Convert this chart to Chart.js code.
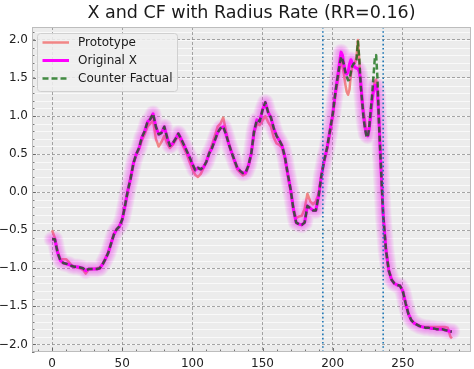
<!DOCTYPE html>
<html>
<head>
<meta charset="utf-8">
<script src="https://cdn.jsdelivr.net/npm/chart.js@4"></script>
<style>
  html, body { margin: 0; padding: 0; background: #fff; }
</style>
</head>
<body>
<canvas id="cfChart" width="474" height="369"></canvas>
<script>
// ── DATA ──
// time index (step 2, step 1 inside the CF window)
const steps = [
  0,2,4,6,8,10,12,14,16,18,20,22,24,26,28,30,32,34,36,38,40,42,44,46,48,50,
  52,54,56,58,60,62,64,66,68,70,72,74,76,78,80,82,84,86,88,90,92,94,96,98,100,
  102,104,106,108,110,112,114,116,118,120,122,124,126,128,130,132,134,136,138,140,
  142,144,146,148,150,152,154,156,158,160,162,164,166,168,170,172,174,176,178,180,
  182,184,186,188,190,192,194,196,198,200,202,
  204,205,206,207,208,209,210,211,212,213,214,215,216,217,218,219,
  220,221,222,223,224,225,226,227,228,229,230,231,232,233,234,
  236,238,240,242,244,246,248,250,252,254,256,258,260,262,264,266,268,270,
  272,274,276,278,280,282,284,285
];

const prototypeVals = [
  -0.50,-0.60,-0.78,-0.88,-0.88,-0.88,-0.92,-0.96,-0.98,-0.99,-1.00,-1.02,-1.07,-1.02,-1.01,-1.01,-1.00,-0.99,-0.94,-0.87,-0.79,-0.67,-0.55,-0.49,-0.44,-0.36,
  -0.18,0.02,0.20,0.38,0.49,0.57,0.68,0.76,0.86,0.90,0.94,0.70,0.60,0.66,0.74,0.64,0.58,0.62,0.68,0.74,0.66,0.58,0.50,0.40,0.30,
  0.23,0.20,0.24,0.32,0.40,0.52,0.62,0.74,0.86,0.90,0.98,0.80,0.64,0.52,0.40,0.30,0.26,0.22,0.24,0.34,
  0.50,0.78,0.90,0.88,0.94,1.00,0.92,0.86,0.72,0.64,0.62,0.58,0.44,0.22,0.02,-0.22,-0.34,-0.32,-0.31,-0.22,
  -0.02,-0.12,-0.16,-0.12,-0.02,0.22,0.42,0.56,0.76,0.98,1.28,
  1.50,1.62,1.72,1.66,1.55,1.42,1.32,1.28,1.35,1.55,1.65,1.68,1.70,1.78,2.00,1.72,
  1.40,1.15,1.06,0.95,0.80,0.78,0.86,1.02,1.20,1.35,1.45,1.48,1.30,0.95,0.50,
  -0.30,-0.76,-1.03,-1.15,-1.20,-1.22,-1.23,-1.30,-1.46,-1.60,-1.68,-1.72,-1.74,-1.76,-1.77,-1.77,-1.77,-1.77,
  -1.77,-1.77,-1.77,-1.77,-1.77,-1.78,-1.90,-1.92
];

const originalX = [
  -0.62,-0.62,-0.80,-0.90,-0.93,-0.94,-0.95,-0.97,-0.98,-0.98,-0.99,-1.00,-1.03,-1.01,-1.01,-1.01,-1.01,-1.00,-0.95,-0.88,-0.80,-0.68,-0.56,-0.49,-0.45,-0.36,
  -0.18,0.02,0.18,0.38,0.50,0.58,0.72,0.80,0.92,0.96,1.03,0.86,0.76,0.78,0.86,0.72,0.61,0.64,0.70,0.77,0.70,0.62,0.54,0.46,0.37,
  0.29,0.32,0.30,0.33,0.40,0.51,0.58,0.68,0.78,0.84,0.86,0.76,0.63,0.52,0.42,0.32,0.28,0.25,0.26,0.35,
  0.51,0.80,0.95,0.93,1.08,1.18,1.05,0.98,0.84,0.74,0.68,0.61,0.46,0.24,0.04,-0.22,-0.40,-0.42,-0.43,-0.40,
  -0.18,-0.21,-0.24,-0.24,-0.05,0.22,0.42,0.58,0.80,1.02,1.32,
  1.58,1.72,1.84,1.80,1.68,1.58,1.55,1.58,1.68,1.74,1.70,1.66,1.64,1.63,1.62,1.58,
  1.45,1.22,1.00,0.86,0.76,0.74,0.82,1.00,1.18,1.32,1.40,1.40,1.30,0.95,0.50,
  -0.30,-0.76,-1.03,-1.15,-1.20,-1.22,-1.23,-1.30,-1.46,-1.60,-1.68,-1.72,-1.74,-1.76,-1.77,-1.78,-1.78,-1.79,
  -1.79,-1.80,-1.80,-1.80,-1.81,-1.82,-1.83,-1.83
];

const counterFactual = [
  -0.62,-0.62,-0.80,-0.90,-0.93,-0.94,-0.95,-0.97,-0.98,-0.98,-0.99,-1.00,-1.03,-1.01,-1.01,-1.01,-1.01,-1.00,-0.95,-0.88,-0.80,-0.68,-0.56,-0.49,-0.45,-0.36,
  -0.18,0.02,0.18,0.38,0.50,0.58,0.72,0.80,0.92,0.96,1.03,0.86,0.76,0.78,0.86,0.72,0.61,0.64,0.70,0.77,0.70,0.62,0.54,0.46,0.37,
  0.29,0.32,0.30,0.33,0.40,0.51,0.58,0.68,0.78,0.84,0.86,0.76,0.63,0.52,0.42,0.32,0.28,0.25,0.26,0.35,
  0.51,0.80,0.95,0.93,1.08,1.18,1.05,0.98,0.84,0.74,0.68,0.61,0.46,0.24,0.04,-0.22,-0.40,-0.42,-0.43,-0.40,
  -0.18,-0.21,-0.24,-0.24,-0.05,0.22,0.42,0.58,0.80,1.02,1.32,
  1.56,1.68,1.78,1.74,1.68,1.58,1.52,1.47,1.48,1.58,1.66,1.69,1.70,1.74,1.98,1.75,
  1.40,1.20,0.98,0.84,0.74,0.72,0.84,1.05,1.25,1.50,1.75,1.80,1.47,0.92,0.50,
  -0.30,-0.76,-1.03,-1.15,-1.20,-1.22,-1.23,-1.30,-1.46,-1.60,-1.68,-1.72,-1.74,-1.76,-1.77,-1.78,-1.78,-1.79,
  -1.79,-1.80,-1.80,-1.80,-1.81,-1.82,-1.83,-1.83
];

const windowBounds = [193, 236];
const xTicks = [0, 50, 100, 150, 200, 250];
const yTicks = [-2, -1.5, -1, -0.5, 0, 0.5, 1, 1.5, 2];

const FONT = '"DejaVu Sans", "Liberation Sans", sans-serif';
const pts = vals => steps.map((x, i) => ({ x, y: vals[i] }));

// ── GLOW UNDER ORIGINAL X ──
const glowLayers = [];
for (let k = 1; k <= 10; k++) {
  glowLayers.push({
    label: '_glow',
    data: pts(originalX),
    borderColor: 'rgba(255,0,255,0.042)',
    borderWidth: 3 + 1.4 * k,
    pointRadius: 0,
    borderJoinStyle: 'round',
    borderCapStyle: 'round',
    order: 20
  });
}

// ── PLOT FURNITURE ──
const furniture = {
  id: 'furniture',
  beforeDraw(chart) {
    const { ctx, chartArea: a, scales: { y } } = chart;
    ctx.save();
    ctx.fillStyle = '#ffffff';
    ctx.fillRect(0, 0, chart.width, chart.height);
    ctx.fillStyle = '#ececec';
    ctx.fillRect(a.left, a.top, a.right - a.left, a.bottom - a.top);
    // faint minor rows
    ctx.strokeStyle = 'rgba(255,255,255,0.7)';
    ctx.lineWidth = 1;
    for (let v = -2.1; v <= 2.15; v += 0.1) {
      const py = Math.round(y.getPixelForValue(v)) + 0.5;
      ctx.beginPath(); ctx.moveTo(a.left, py); ctx.lineTo(a.right, py); ctx.stroke();
    }
    ctx.restore();
  },
  afterDatasetsDraw(chart) {
    const { ctx, chartArea: a, scales: { x } } = chart;
    ctx.save();
    ctx.strokeStyle = '#1f77b4';
    ctx.lineWidth = 1.6;
    ctx.setLineDash([1.6, 2.6]);
    windowBounds.forEach(b => {
      const px = x.getPixelForValue(b);
      ctx.beginPath(); ctx.moveTo(px, a.top); ctx.lineTo(px, a.bottom); ctx.stroke();
    });
    ctx.restore();
  },
  afterDraw(chart) {
    const { ctx, chartArea: a, scales: { x, y } } = chart;
    ctx.save();
    // minor / major ticks, pointing in
    ctx.strokeStyle = '#555';
    ctx.lineWidth = 0.8;
    for (let v = -10; v <= 290; v += 10) {
      const px = Math.round(x.getPixelForValue(v)) + 0.5;
      const len = v % 50 === 0 ? 4 : 2.5;
      ctx.beginPath(); ctx.moveTo(px, a.bottom); ctx.lineTo(px, a.bottom - len); ctx.stroke();
    }
    for (let i = -21; i <= 21; i++) {
      const py = Math.round(y.getPixelForValue(i / 10)) + 0.5;
      const len = i % 5 === 0 ? 4 : 2.5;
      ctx.beginPath(); ctx.moveTo(a.left, py); ctx.lineTo(a.left + len, py); ctx.stroke();
    }
    // frame
    ctx.strokeStyle = '#bdbdbd';
    ctx.lineWidth = 1;
    ctx.strokeRect(a.left + 0.5, a.top + 0.5, a.right - a.left - 1, a.bottom - a.top - 1);

    // title
    ctx.fillStyle = '#1a1a1a';
    ctx.font = '17.5px ' + FONT;
    ctx.textAlign = 'center';
    ctx.textBaseline = 'middle';
    ctx.fillText('X and CF with Radius Rate (RR=0.16)', (a.left + a.right) / 2, 13);

    // legend
    const bx = 37.5, by = 33.5, bw = 140, bh = 58;
    ctx.beginPath();
    ctx.roundRect(bx, by, bw, bh, 3);
    ctx.fillStyle = 'rgba(240,240,240,0.85)';
    ctx.fill();
    ctx.strokeStyle = '#d0d0d0';
    ctx.lineWidth = 1;
    ctx.stroke();
    const entries = chart.data.datasets.filter(d => !d.label.startsWith('_'));
    entries.sort((p, q) => p.legendRank - q.legendRank);
    ctx.font = '12px ' + FONT;
    ctx.textAlign = 'left';
    entries.forEach((d, i) => {
      const ly = 42.5 + i * 18;
      ctx.strokeStyle = d.borderColor;
      ctx.lineWidth = d.borderWidth;
      ctx.setLineDash(d.borderDash || []);
      ctx.beginPath(); ctx.moveTo(42.5, ly); ctx.lineTo(69, ly); ctx.stroke();
      ctx.setLineDash([]);
      ctx.fillStyle = '#1a1a1a';
      ctx.fillText(d.label, 78, ly + 0.5);
    });
    ctx.restore();
  }
};

const minusFmt = v => (v < 0 ? '\u2212' : '') + Math.abs(v).toFixed(1);

new Chart(document.getElementById('cfChart'), {
  type: 'line',
  data: {
    datasets: [
      {
        label: 'Prototype',
        legendRank: 0,
        data: pts(prototypeVals),
        borderColor: 'rgba(240,128,128,0.95)',
        borderWidth: 2.5,
        pointRadius: 0,
        borderJoinStyle: 'round',
        order: 30
      },
      ...glowLayers,
      {
        label: 'Original X',
        legendRank: 1,
        data: pts(originalX),
        borderColor: '#ff00ff',
        borderWidth: 3,
        pointRadius: 0,
        borderJoinStyle: 'round',
        order: 10
      },
      {
        label: 'Counter Factual',
        legendRank: 2,
        data: pts(counterFactual),
        borderColor: 'rgba(0,100,0,0.72)',
        borderWidth: 2.5,
        borderDash: [6, 3],
        pointRadius: 0,
        borderJoinStyle: 'round',
        order: 0
      }
    ]
  },
  options: {
    responsive: false,
    animation: false,
    layout: { padding: { top: 27, right: 3, left: 0, bottom: 0 } },
    plugins: { legend: { display: false }, tooltip: { enabled: false }, title: { display: false } },
    scales: {
      x: {
        type: 'linear',
        min: -14.3,
        max: 298.6,
        afterFit: s => { s.height = 17; },
        afterBuildTicks: s => { s.ticks = xTicks.map(v => ({ value: v })); },
        ticks: { font: { family: FONT, size: 12 }, color: '#222', padding: 5, maxRotation: 0, callback: v => String(v) },
        grid: { color: '#8f8f8f', lineWidth: 0.8, drawTicks: false },
        border: { display: false, dash: [3, 2] }
      },
      y: {
        type: 'linear',
        min: -2.1,
        max: 2.17,
        afterFit: s => { s.width = 32; },
        afterBuildTicks: s => { s.ticks = yTicks.map(v => ({ value: v })); },
        ticks: { font: { family: FONT, size: 12 }, color: '#222', padding: 4, callback: minusFmt },
        grid: { color: '#8f8f8f', lineWidth: 0.8, drawTicks: false },
        border: { display: false, dash: [3, 2] }
      }
    }
  },
  plugins: [furniture]
});
</script>
</body>
</html>
